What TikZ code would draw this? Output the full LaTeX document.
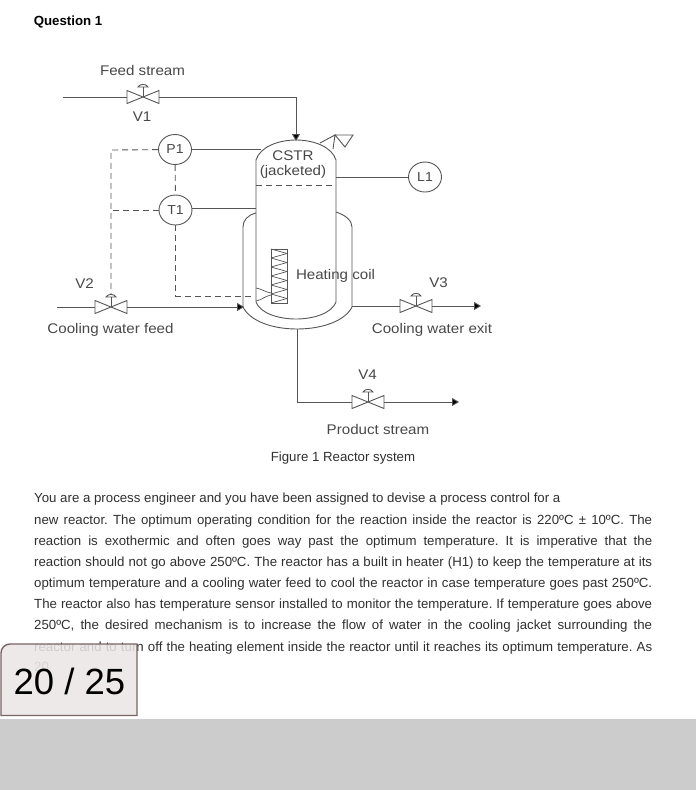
\documentclass[tikz,border=0pt]{standalone}
\usepackage{fontspec}
\setmainfont{Liberation Sans}
\newfontfamily\labelfont[FakeStretch=1.08]{Liberation Sans}
\usepackage{xcolor}
\usetikzlibrary{arrows.meta,shapes.geometric}
\definecolor{lineC}{HTML}{555555}
\definecolor{labelC}{HTML}{484848}
\definecolor{bodyC}{HTML}{303030}
\definecolor{badgeC}{HTML}{EBE6E6}
\definecolor{badgeL}{HTML}{7A6565}
\newcommand{\bodyline}[1]{\makebox[618pt][s]{\frenchspacing #1}}

\begin{document}
\begin{tikzpicture}[
  x=1pt, y=-1pt,
  font=\labelfont\fontsize{14}{16}\selectfont,
  pipe/.style={draw=lineC, line width=0.9pt},
  arr/.style={pipe, -{Triangle[length=7pt,width=8pt,fill=black]}},
  signal/.style={draw=lineC, line width=0.9pt, dash pattern=on 6pt off 4pt},
  lbl/.style={text=labelC, inner sep=0pt},
  inst/.style={draw=lineC, line width=0.9pt, ellipse, minimum width=33pt, minimum height=30pt, inner sep=0pt, text=labelC, font=\labelfont\fontsize{13}{15}\selectfont},
  bodytext/.style={anchor=west, inner sep=0pt, text=bodyC, font=\rmfamily\fontsize{13.25}{15}\selectfont\frenchspacing},
  pics/valve/.style={code={
    \draw[pipe] (-16,-6.5) -- (16,6.5) -- (16,-6.5) -- (-16,6.5) -- cycle;
    \draw[pipe] (0,0) -- (0,-10);
    \draw[pipe] (-5,-10) .. controls (-3,-13.5) and (3,-13.5) .. (5,-10) -- cycle;
    \coordinate (-l) at (-16,0);
    \coordinate (-r) at (16,0);
    \coordinate (-t) at (0,-13);
  }},
]
\useasboundingbox (0,0) rectangle (696,790);
\fill[white] (0,0) rectangle (696,790);
\fill[black!20] (0,719) rectangle (696,790);
\node[inner sep=0pt, font=\rmfamily\fontsize{13.25}{15}\selectfont\bfseries] (qT) at (68,22) {Question 1};

% valves
\pic (vOne) at (143,97) {valve};
\pic (vTwo) at (111,307) {valve};
\pic (vThree) at (416,306) {valve};
\pic (vFour) at (368,402) {valve};

% instruments
\node[inst] (pOne) at (175,149.5) {P1};
\node[inst] (tOne) at (175.5,210) {T1};
\node[inst] (lOne) at (425,177) {L1};

% reactor
\draw[pipe] (256,302) -- (256,160) .. controls (260,147) and (278,140) .. (296,140)
  .. controls (314,140) and (332,147) .. (336,160) -- (336,302)
  .. controls (332,313) and (314,319) .. (296,319) .. controls (278,319) and (260,313) .. (256,302);
\draw[pipe] (256,213) .. controls (248,215) and (243,220) .. (243,227) -- (243,307)
  .. controls (250,321) and (272,329) .. (297,329) .. controls (322,329) and (345,321) .. (352,307)
  -- (352,227) .. controls (352,220) and (345,215) .. (336,212);
\draw[signal] (256,185) -- (336,185);
% vent
\draw[pipe] (320,143) -- (335,135) -- (333,149);
\draw[pipe] (335,135) -- (353,135) -- (345,147) -- cycle;
% coil
\draw[pipe] (271,249) rectangle (287,303);
\foreach \i/\a/\b in {0/271/287,1/287/271,2/271/287,3/287/271,4/271/287,5/287/271,6/271/287,7/287/271,8/271/287,9/287/271,10/271/287,11/287/271}{
  \draw[pipe, line width=0.7pt] (\a,249+4.5*\i) -- (\b,253.5+4.5*\i);
}
\draw[pipe, line width=0.7pt] (256,288) .. controls (262,289) and (265,292) .. (271,293);
\draw[pipe, line width=0.7pt] (256,301) .. controls (262,300) and (265,296) .. (271,295);

% pipes
\coordinate (feedIn) at (63,97);
\coordinate (feedBend) at (296,97);
\coordinate (feedTip) at (296,141);
\draw[pipe] (feedIn) -- (vOne-l);
\draw[arr] (vOne-r) -- (feedBend) -- (feedTip);
\coordinate (coolIn) at (57,307);
\coordinate (coolTip) at (244,307);
\draw[pipe] (coolIn) -- (vTwo-l);
\draw[arr] (vTwo-r) -- (coolTip);
\coordinate (coolOut) at (352,306);
\coordinate (coolEnd) at (481,306);
\draw[pipe] (coolOut) -- (vThree-l);
\draw[arr] (vThree-r) -- (coolEnd);
\coordinate (prodOut) at (297,329);
\coordinate (prodBend) at (297,402);
\coordinate (prodEnd) at (459,402);
\draw[pipe] (prodOut) -- (prodBend) -- (vFour-l);
\draw[arr] (vFour-r) -- (prodEnd);

% instrument lines
\coordinate (vesP) at (261,149.5);
\coordinate (vesT) at (256,208);
\coordinate (vesL) at (336,177);
\draw[pipe] (pOne) -- (vesP);
\draw[pipe] (tOne.east |- vesT) -- (vesT);
\draw[pipe] (lOne) -- (vesL);

% signals
\coordinate (sigA) at (111,150);
\coordinate (sigB) at (111,210);
\coordinate (sigC) at (175.5,296);
\coordinate (sigD) at (253,296);
\draw[signal] (pOne) -- (sigA) -- (vTwo-t);
\draw[signal] (tOne) -- (sigB);
\draw[signal] (pOne) -- (tOne);
\draw[signal] (tOne) -- (sigC) -- (sigD);

% labels
\node[lbl] (feedT) at (142.5,70) {Feed stream};
\node[lbl] (vOneT) at (142,117) {V1};
\node[lbl] (vTwoT) at (84.5,284) {V2};
\node[lbl] (vThreeT) at (438.5,283) {V3};
\node[lbl] (vFourT) at (367.5,375) {V4};
\node[lbl] (coolT) at (110.5,330) {Cooling water feed};
\node[lbl] (exitT) at (432,330) {Cooling water exit};
\node[lbl] (prodT) at (378,429) {Product stream};
\node[lbl] (cstrT) at (293,156) {CSTR};
\node[lbl] (jackT) at (293,172) {(jacketed)};
\node[lbl] (coilT) at (335.5,276) {Heating coil};
\node[inner sep=0pt, text=bodyC, font=\rmfamily\fontsize{13.25}{15}\selectfont] (figT) at (343,458) {Figure 1 Reactor system};

% body text
\node[bodytext] (bA) at (34,499) {You are a process engineer and you have been assigned to devise a process control for a};
\node[bodytext] (bB) at (34,521.5) {\bodyline{new reactor. The optimum operating condition for the reaction inside the reactor is 220ºC ± 10ºC. The}};
\node[bodytext] (bC) at (34,542.5) {\bodyline{reaction is exothermic and often goes way past the optimum temperature. It is imperative that the}};
\node[bodytext] (bD) at (34,563.5) {\bodyline{reaction should not go above 250ºC. The reactor has a built in heater (H1) to keep the temperature at its}};
\node[bodytext] (bE) at (34,584.5) {\bodyline{optimum temperature and a cooling water feed to cool the reactor in case temperature goes past 250ºC.}};
\node[bodytext] (bF) at (34,605.5) {\bodyline{The reactor also has temperature sensor installed to monitor the temperature. If temperature goes above}};
\node[bodytext] (bG) at (34,626.5) {\bodyline{250ºC, the desired mechanism is to increase the flow of water in the cooling jacket surrounding the}};
\node[bodytext] (bH) at (34,648.5) {\bodyline{reactor and to turn off the heating element inside the reactor until it reaches its optimum temperature. As}};
\node[bodytext, text=black!55] (pgOld) at (34,667) {20};

% page badge
\path[fill=badgeC, fill opacity=0.85, draw=badgeL, line width=1.4pt]
  (1,715.5) [rounded corners=9pt] -- (1,644) [sharp corners] -- (137,644) -- (137,715.5) -- cycle;
\node[inner sep=0pt, text=black, font=\rmfamily\fontsize{36.5}{40}\selectfont] (pgT) at (69.5,681) {20 / 25};
\end{tikzpicture}
\end{document}
